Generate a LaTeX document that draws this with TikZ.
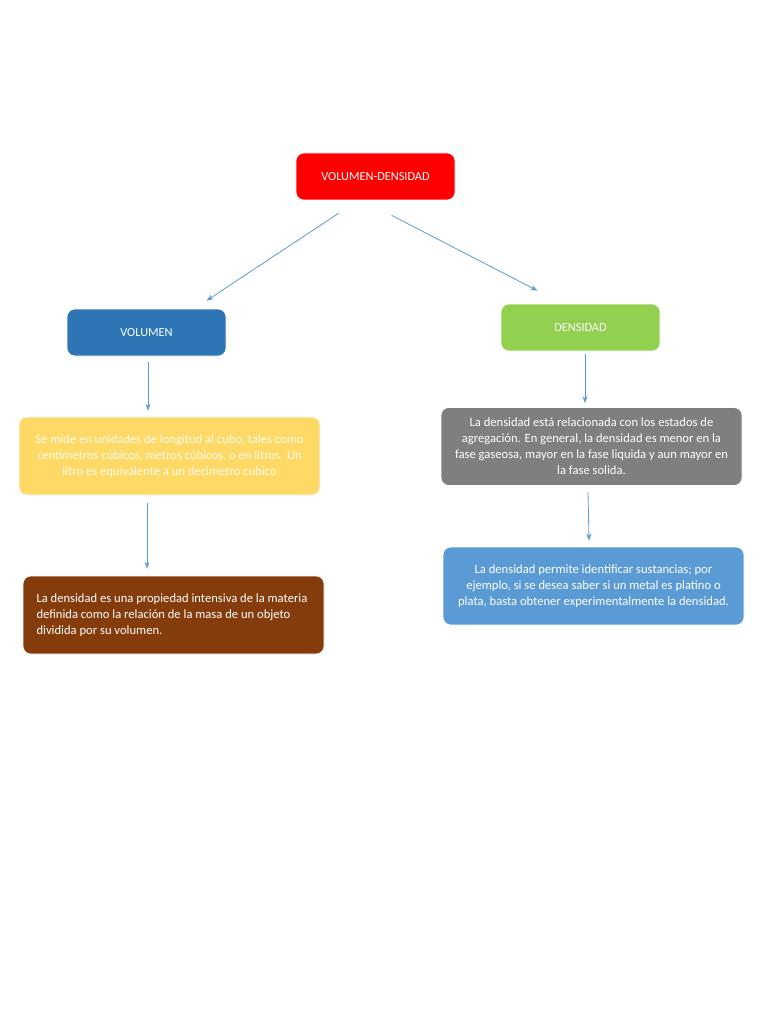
\documentclass[tikz,border=0pt]{standalone}
\usepackage{fontspec}
\setmainfont{Carlito}
\usetikzlibrary{arrows.meta}

\definecolor{rojo}{HTML}{FF0000}
\definecolor{azulosc}{HTML}{2E75B6}
\definecolor{verde}{HTML}{92D050}
\definecolor{amarillo}{HTML}{FFD966}
\definecolor{marron}{HTML}{843C0C}
\definecolor{gris}{HTML}{7F7F7F}
\definecolor{azulcl}{HTML}{5B9BD5}
\definecolor{flecha}{HTML}{5B9BD5}

\tikzset{
    caja/.style={rounded corners=8pt, draw=white, line width=0.6pt,
        text=white, inner sep=0pt, align=center},
    titulo/.style={caja, minimum width=159pt, minimum height=47pt, font=\fontsize{12.3}{14}\selectfont},
    texto/.style={caja, minimum width=301pt, minimum height=78pt, font=\fontsize{12.6}{16}\selectfont},
    flechita/.style={draw=flecha, line width=0.8pt, -{Stealth[length=7pt,width=5pt]}}
}

\begin{document}
\begin{tikzpicture}[x=1pt, y=-1pt]

    \useasboundingbox[fill=white] (0,0) rectangle (768,1024);

    %========================
    % Nivel superior
    %========================
    \node[titulo, fill=rojo] (top) at (375.5,176.5) {VOLUMEN-DENSIDAD};

    %========================
    % Rama izquierda: volumen
    %========================
    \node[titulo, fill=azulosc] (vol) at (146.5,332.5) {VOLUMEN};

    \node[texto, fill=amarillo, text=white!92!amarillo] (yel) at (169.5,456)
        {Se mide en unidades de longitud al cubo, tales como\\
         centimetros cúbicos, metros cúbicos, o en litros. Un\\
         litro es equivalente a un decimetro cubico};

    \node[texto, fill=marron, align=left] (bro) at (173.5,615)
        {\parbox{274pt}{La densidad es una propiedad intensiva de la materia\\
         definida como la relación de la masa de un objeto\\
         dividida por su volumen.}};

    %========================
    % Rama derecha: densidad
    %========================
    \node[titulo, fill=verde] (dens) at (580.5,327.5) {DENSIDAD};

    \node[texto, fill=gris] (gra) at (591.5,446.5)
        {La densidad está relacionada con los estados de\\
         agregación. En general, la densidad es menor en la\\
         fase gaseosa, mayor en la fase liquida y aun mayor en\\
         la fase solida.};

    \node[texto, fill=azulcl] (blu) at (593.5,586)
        {La densidad permite identificar sustancias; por\\
         ejemplo, si se desea saber si un metal es platino o\\
         plata, basta obtener experimentalmente la densidad.};

    %========================
    % Flechas
    %========================
    \draw[flechita] ([xshift=-37pt,yshift=-13pt]top.south) -- ([xshift=60pt,yshift=8pt]vol.north);
    \draw[flechita] ([xshift=16pt,yshift=-15pt]top.south) -- ([xshift=-43pt,yshift=13pt]dens.north);

    \draw[flechita] ([xshift=1.5pt,yshift=-6pt]vol.south) -- ([xshift=-21.5pt,yshift=6pt]yel.north);
    \draw[flechita] ([xshift=-22.5pt,yshift=-8pt]yel.south) -- ([xshift=-26.5pt,yshift=7pt]bro.north);

    \draw[flechita] ([xshift=4.5pt,yshift=-3pt]dens.south) -- ([xshift=-6.5pt,yshift=4pt]gra.north);
    \draw[flechita] ([xshift=-3.5pt,yshift=-6pt]gra.south) -- ([xshift=-4.5pt,yshift=6pt]blu.north);

\end{tikzpicture}
\end{document}
